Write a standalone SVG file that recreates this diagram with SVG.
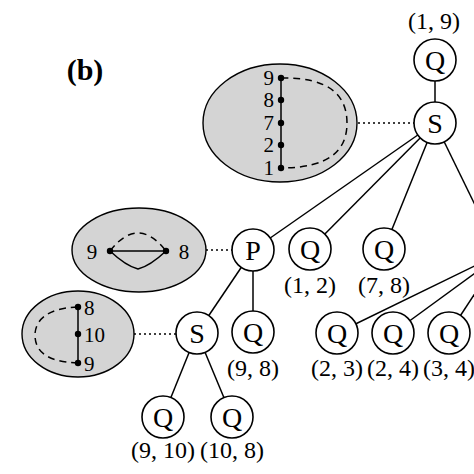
<svg xmlns="http://www.w3.org/2000/svg" width="474" height="474" viewBox="0 0 474 474">
<style>
.nd{fill:#fff;stroke:#000;stroke-width:1.6}
.el{fill:#d4d4d4;stroke:#000;stroke-width:1.4}
.t{font-family:"Liberation Serif","DejaVu Serif",serif;font-size:28px;text-anchor:middle;fill:#000}
.lb{font-family:"Liberation Serif","DejaVu Serif",serif;font-size:24px;text-anchor:middle;fill:#000}
.d{font-family:"Liberation Serif","DejaVu Serif",serif;font-size:21px;fill:#000}
.e{stroke:#000;stroke-width:1.5;fill:none}
.dot{stroke:#000;stroke-width:1.6;stroke-dasharray:2 3;fill:none}
.dash{stroke:#000;stroke-width:1.5;stroke-dasharray:7 5;fill:none}
</style>
<rect width="474" height="474" fill="#fff"/>
<text x="85" y="80" font-family="Liberation Serif,serif" font-size="30" font-weight="bold" text-anchor="middle">(b)</text>
<g id="connectors">
<line class="e" x1="435" y1="60" x2="435" y2="123"/>
<line class="e" x1="435" y1="123" x2="253" y2="250"/>
<line class="e" x1="435" y1="123" x2="310" y2="249"/>
<line class="e" x1="435" y1="123" x2="384" y2="249"/>
<line class="e" x1="435" y1="123" x2="497" y2="250"/>
<line class="e" x1="497" y1="255" x2="337" y2="333"/>
<line class="e" x1="497" y1="257" x2="393" y2="333"/>
<line class="e" x1="497" y1="260" x2="449" y2="333"/>
<line class="e" x1="253" y1="250" x2="197" y2="333"/>
<line class="e" x1="253" y1="250" x2="253" y2="332"/>
<line class="e" x1="197" y1="333" x2="163" y2="417"/>
<line class="e" x1="197" y1="333" x2="232" y2="417"/>
<line class="dot" x1="358" y1="123" x2="414" y2="123"/>
<line class="dot" x1="206" y1="250" x2="232" y2="250"/>
<line class="dot" x1="134" y1="334" x2="176" y2="334"/>
</g>
<g id="ell1">
<ellipse class="el" cx="280" cy="123" rx="77" ry="59"/>
<path class="dash" d="M281,78 C330,77 347,96 347,123 C347,150 330,168 281,168"/>
<line class="e" x1="281" y1="78" x2="281" y2="168"/>
<g fill="#000"><circle cx="281" cy="78" r="3.2"/><circle cx="281" cy="100" r="3.2"/><circle cx="281" cy="123" r="3.2"/><circle cx="281" cy="145" r="3.2"/><circle cx="281" cy="168" r="3.2"/></g>
<g class="d" text-anchor="end"><text x="274" y="85">9</text><text x="274" y="107">8</text><text x="274" y="130">7</text><text x="274" y="152">2</text><text x="274" y="175">1</text></g>
</g>
<g id="ell2">
<ellipse class="el" cx="139" cy="250" rx="67" ry="42"/>
<line class="e" x1="110" y1="251" x2="166" y2="251"/>
<path class="dash" d="M110,251 Q138,215 166,251"/>
<path class="e" d="M110,251 Q126,266 138,269 Q150,266 166,251"/>
<g fill="#000"><circle cx="110" cy="251" r="3.2"/><circle cx="166" cy="251" r="3.2"/></g>
<text class="d" x="92" y="259" text-anchor="middle" font-size="24">9</text>
<text class="d" x="184" y="259" text-anchor="middle" font-size="24">8</text>
</g>
<g id="ell3">
<ellipse class="el" cx="78" cy="334" rx="56" ry="43"/>
<path class="dash" d="M78,307 C45,308 35,322 35,335 C35,350 45,362 78,363"/>
<line class="e" x1="78" y1="307" x2="78" y2="363"/>
<g fill="#000"><circle cx="78" cy="307" r="3.2"/><circle cx="78" cy="334" r="3.2"/><circle cx="78" cy="363" r="3.2"/></g>
<g class="d" font-size="23"><text x="84" y="315">8</text><text x="84" y="342">10</text><text x="84" y="371">9</text></g>
</g>
<g id="q19"><circle class="nd" cx="435" cy="60" r="21"/><text class="t" x="435" y="70">Q</text><text class="lb" x="434" y="29">(1, 9)</text></g>
<g id="s1"><circle class="nd" cx="435" cy="123" r="21"/><text class="t" x="435" y="133">S</text></g>
<g id="p1"><circle class="nd" cx="253" cy="250" r="21"/><text class="t" x="253" y="260">P</text></g>
<g id="q12"><circle class="nd" cx="310" cy="249" r="21"/><text class="t" x="310" y="259">Q</text><text class="lb" x="310" y="293">(1, 2)</text></g>
<g id="q78"><circle class="nd" cx="384" cy="249" r="21"/><text class="t" x="384" y="259">Q</text><text class="lb" x="384" y="293">(7, 8)</text></g>
<g id="q23"><circle class="nd" cx="337" cy="333" r="21"/><text class="t" x="337" y="343">Q</text><text class="lb" x="337" y="376">(2, 3)</text></g>
<g id="q24"><circle class="nd" cx="393" cy="333" r="21"/><text class="t" x="393" y="343">Q</text><text class="lb" x="393" y="376">(2, 4)</text></g>
<g id="q34"><circle class="nd" cx="449" cy="333" r="21"/><text class="t" x="449" y="343">Q</text><text class="lb" x="449" y="376">(3, 4)</text></g>
<g id="s2"><circle class="nd" cx="197" cy="333" r="21"/><text class="t" x="197" y="343">S</text></g>
<g id="q98"><circle class="nd" cx="253" cy="332" r="21"/><text class="t" x="253" y="342">Q</text><text class="lb" x="253" y="376">(9, 8)</text></g>
<g id="q910"><circle class="nd" cx="163" cy="417" r="21"/><text class="t" x="163" y="427">Q</text><text class="lb" x="163" y="458">(9, 10)</text></g>
<g id="q108"><circle class="nd" cx="232" cy="417" r="21"/><text class="t" x="232" y="427">Q</text><text class="lb" x="232" y="458">(10, 8)</text></g>
</svg>
